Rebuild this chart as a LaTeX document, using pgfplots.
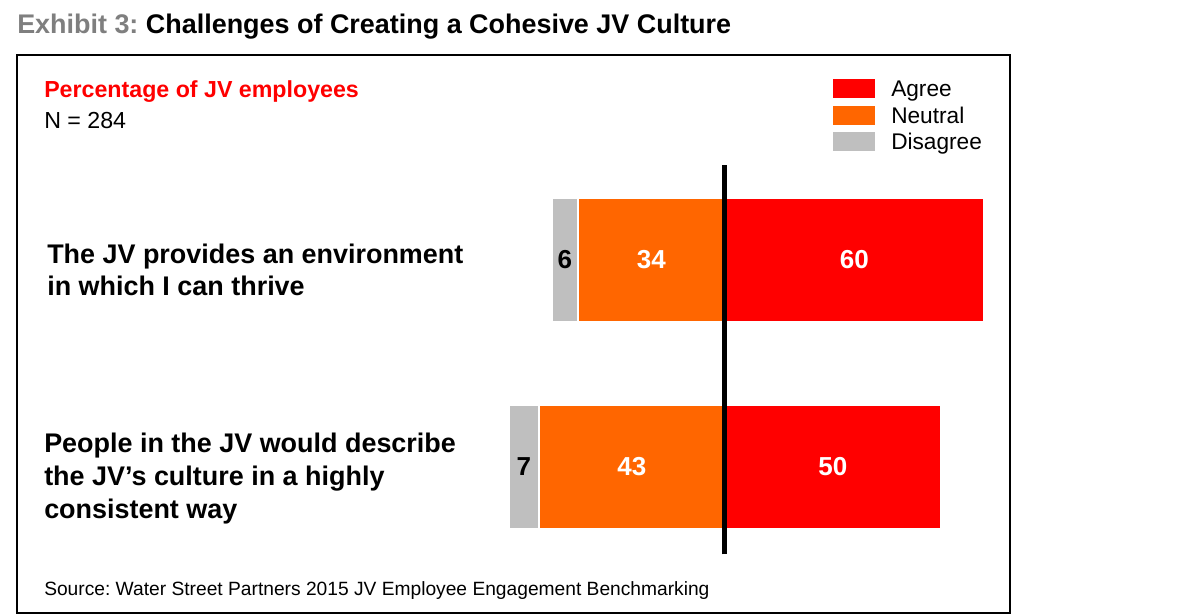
\documentclass[border=0pt]{standalone}
\usepackage{pgfplots}
\pgfplotsset{compat=1.18}
\usepackage{fontspec}
\setmainfont{Liberation Sans}
\frenchspacing

\definecolor{agree}{HTML}{FF0000}
\definecolor{neutral}{HTML}{FF6600}
\definecolor{disagree}{HTML}{BFBFBF}
\definecolor{exhibitgray}{HTML}{7F7F7F}

\pgfplotsset{
  divbar/.style={
    scale only axis,
    width=388.8pt, height=292pt,
    xmin=-55, xmax=65,
    ymin=-0.424, ymax=1.46,
    axis lines=none,
    ticks=none,
    clip=false,
    bar width=92.5pt,
    anchor=south west,
    at={(365.4pt,-415.7pt)},
  },
  % value label; stacked bars already centre their labels
  stacklabel/.style={
    visualization depends on=rawx \as \rawx,
    nodes near coords={\pgfmathtruncatemacro\barval{abs(\rawx)}\barval},
    every node near coord/.append style={
      anchor=center, text=#1,
      font=\bfseries\fontsize{19.5}{20}\selectfont},
  },
  % value label moved back to the middle of a plain bar
  barlabel/.style={
    stacklabel=#1,
    every node near coord/.append style={
      shift={(axis direction cs:{-0.5*(\rawx)},0)}},
  },
}

\begin{document}
\begin{tikzpicture}[x=0.75pt,y=-0.75pt]
\useasboundingbox (0,0) rectangle (1200,615);

% title and frame
\node[anchor=base west, inner sep=0pt, font=\bfseries\fontsize{20.2}{22}\selectfont]
  at (17,33) {\textcolor{exhibitgray}{Exhibit 3:} Challenges of Creating a Cohesive JV Culture};
\draw[line width=1.4pt] (17,55) rectangle (1010,613);

\node[anchor=base west, inner sep=0pt, text=agree, font=\bfseries\fontsize{17.4}{20}\selectfont]
  at (44,97) {Percentage of JV employees};
\node[anchor=base west, inner sep=0pt, font=\fontsize{17.4}{20}\selectfont]
  at (44,128) {N = 284};

% question labels
\begin{scope}[every node/.style={anchor=base west, inner sep=0pt, font=\bfseries\fontsize{20.2}{24}\selectfont}]
  \node at (47,263) {The JV provides an environment};
  \node at (47,295) {in which I can thrive};
  \node at (44,452) {People in the JV would describe};
  \node at (44,485) {the JV’s culture in a highly};
  \node at (44,518) {consistent way};
\end{scope}

\node[anchor=base west, inner sep=0pt, font=\fontsize{14.4}{16}\selectfont]
  at (44,595) {Source: Water Street Partners 2015 JV Employee Engagement Benchmarking};

% neutral and disagree, stacked to the left of zero
\begin{axis}[divbar, xbar stacked]
  \addplot[fill=neutral, draw=white, line width=1.1pt, stacklabel=white]
    coordinates {(-34,1) (-43,0)};
  \addplot[fill=disagree, draw=white, line width=1.1pt, stacklabel=black]
    coordinates {(-6,1) (-7,0)};
\end{axis}

% agree to the right of zero, centre line and legend
\begin{axis}[divbar,
    legend style={draw=none, fill=none, at={(0.667,1.221)}, anchor=north west,
      inner sep=0pt, row sep=2.6pt,
      font=\fontsize{17}{20}\selectfont,
      nodes={inner sep=0pt, text height=12.5pt, text depth=4pt},
      /tikz/every odd column/.append style={column sep=12pt}},
    legend cell align=left,
    legend image code/.code={\fill[#1, draw=none] (0pt,-5.5pt) rectangle (31.5pt,9pt);},
  ]
  \addplot[xbar, bar shift=0pt, fill=agree, draw=white, line width=1.1pt, barlabel=white]
    coordinates {(60,1) (50,0)};
  \addlegendentry{Agree}
  \addlegendimage{fill=neutral}
  \addlegendentry{Neutral}
  \addlegendimage{fill=disagree}
  \addlegendentry{Disagree}
  \addplot[black, line width=3.75pt, forget plot] coordinates {(0,-0.424) (0,1.46)};
\end{axis}
\end{tikzpicture}
\end{document}
